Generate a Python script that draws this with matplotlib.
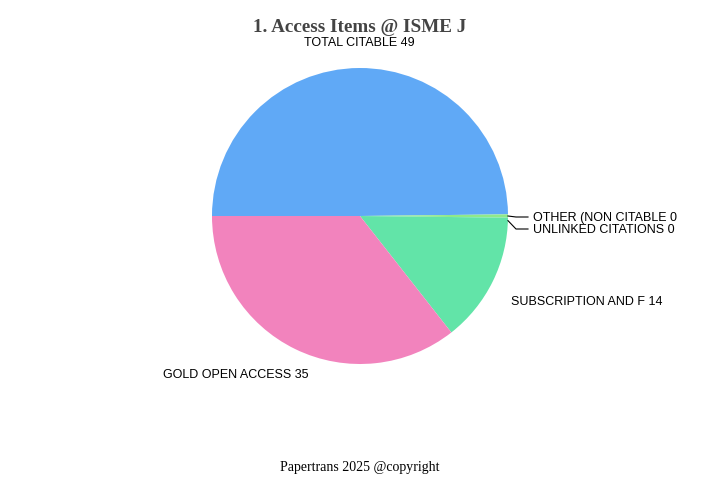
import numpy as np
import matplotlib.pyplot as plt

# data
categories = ["TOTAL CITABLE", "OTHER (NON CITABLE", "UNLINKED CITATIONS",
              "SUBSCRIPTION AND F", "GOLD OPEN ACCESS"]
values = [49, 0.35, 0, 14, 35]
colors = ["#60a9f6", "#8fe98a", "#cccccc", "#62e4a8", "#f283bd"]

# label nudges in pixels (dx, dy up)
nudge = {0: (0, 0), 3: (-4, -9), 4: (24, -3)}

fig = plt.figure(figsize=(7.2, 4.8), dpi=100)
ax = fig.add_axes([0, 0, 1, 1])

cx, cy, r = 360, 264, 148
wedges, _ = ax.pie(values, colors=colors, startangle=180, counterclock=False,
                   center=(cx, cy), radius=r, frame=True)
ax.set_xlim(0, 720)
ax.set_ylim(0, 480)
ax.axis("off")

lab_font = dict(family="Liberation Sans", fontsize=9, color="black")

for i, w in enumerate(wedges):
    txt = f"{categories[i]} {round(values[i])}"
    mid = np.deg2rad((w.theta1 + w.theta2) / 2)
    if i in (1, 2):
        # leader lines for the tiny slices
        ex, ey = cx + r * np.cos(mid), cy + r * np.sin(mid)
        ty = cy - 1 if i == 1 else cy - 13
        if i == 2:
            ey -= 3
        ax.plot([ex, ex + 8, ex + 20], [ey, ty, ty], color="black", lw=0.8)
        ax.text(ex + 25, ty - 1, txt, ha="left", va="center", **lab_font)
        continue
    d = 1.17 * r
    x, y = cx + d * np.cos(mid), cy + d * np.sin(mid)
    dx, dy = nudge[i]
    if abs(np.cos(mid)) < 0.05:
        ha = "center"
    elif np.cos(mid) > 0:
        ha = "left"
    else:
        ha = "right"
    ax.text(x + dx, y + dy, txt, ha=ha, va="center", **lab_font)

fig.text(0.5, 1 - 27 / 480, "1. Access Items @ ISME J", ha="center", va="center",
         family="Liberation Serif", fontsize=13.8, fontweight="bold", color="#444444")
fig.text(0.5, 1 - 467 / 480, "Papertrans 2025 @copyright", ha="center", va="center",
         family="Liberation Serif", fontsize=10, color="black")

fig.savefig("out.png", dpi=100, facecolor="white")
